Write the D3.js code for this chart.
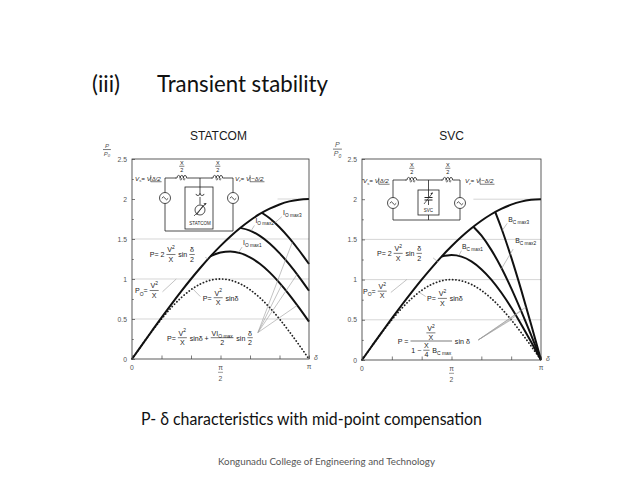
<!DOCTYPE html>
<html><head><meta charset="utf-8">
<script src="https://cdn.jsdelivr.net/npm/d3@7"></script>
<style>body{margin:0;background:#fff}svg{display:block}</style>
</head><body><svg id="c" width="638" height="478"></svg>
<script>
// ---------------- data ----------------
const deltaDeg = [0,10,20,30,40,50,60,70,80,90,100,110,120,130,140,150,160,170,180];
const envelopeP = [0,0.174,0.347,0.518,0.684,0.845,1.000,1.147,1.286,1.414,1.532,1.638,1.732,1.813,1.879,1.932,1.970,1.992,2.000];
const sinP = [0,0.174,0.342,0.5,0.643,0.766,0.866,0.940,0.985,1,0.985,0.940,0.866,0.766,0.643,0.5,0.342,0.174,0];

const statcomI1Deg = [80,90,100,110,120,130,140,150,160,170,180];
const statcomI1P = [1.286,1.331,1.343,1.323,1.271,1.190,1.083,0.952,0.803,0.640,0.468];
const statcomI2Deg = [110,120,130,140,150,160,170,180];
const statcomI2P = [1.639,1.605,1.539,1.445,1.324,1.182,1.024,0.853];
const statcomI3Deg = [132,140,150,160,170,180];
const statcomI3P = [1.828,1.759,1.647,1.511,1.356,1.187];

const svcB1Deg = [80,90,100,110,120,130,140,150,160,170,180];
const svcB1P = [1.286,1.305,1.286,1.227,1.130,1.000,0.839,0.653,0.446,0.227,0];
const svcB2Deg = [112,120,130,140,150,160,170,180];
const svcB2P = [1.658,1.549,1.370,1.150,0.894,0.611,0.311,0];
const svcB3Deg = [134,140,150,160,170,180];
const svcB3P = [1.840,1.645,1.279,0.875,0.445,0];

const yTickValues = [0,0.5,1,1.5,2,2.5];
const yTickLabels = ['0','0.5','1','1.5','2','2.5'];
const yMinorValues = [0.25,0.75,1.25,1.75,2.25];
const xTickDeg = [0,30,60,90,120,150,180];
const gridLevels = [0.5,1,1.5,2];

// ---------------- helpers ----------------
const svg = d3.select('#c');
const FF = '"Liberation Sans", Arial, sans-serif';
const INK = '#222';
const NB = '\u00a0';

function layout(g, x, y, items, fs){
  let cx = x;
  for (let it of items){
    if (typeof it === 'string') it = {t: it};
    if (it.frac){
      const nb = it.nb ?? -0.7, db = it.db ?? 0.6;
      const gn = g.append('g'), gd = g.append('g');
      const wn = layout(gn, 0, 0, it.frac[0], fs);
      const wd = layout(gd, 0, 0, it.frac[1], fs);
      const W = Math.max(wn, wd) + 1.5;
      gn.attr('transform', `translate(${cx+(W-wn)/2},${y+nb*fs})`);
      gd.attr('transform', `translate(${cx+(W-wd)/2},${y+db*fs})`);
      g.append('line').attr('x1',cx).attr('x2',cx+W).attr('y1',y-0.41*fs).attr('y2',y-0.41*fs)
        .attr('stroke',INK).attr('stroke-width',0.6);
      cx += W + 0.8;
    } else if (it.angle){
      const t = g.append('text').attr('x',cx+1.2).attr('y',y).attr('font-size',fs).text(it.angle);
      const w = t.node().getComputedTextLength();
      g.append('path').attr('d',`M${cx},${y-0.85*fs}V${y+0.2*fs}H${cx+w+2.2}`)
        .attr('fill','none').attr('stroke',INK).attr('stroke-width',0.6);
      cx += w + 2.5;
    } else {
      const t = g.append('text').attr('x',cx).attr('y',y).attr('font-size',fs);
      t.append('tspan').text(it.t);
      if (it.sup) t.append('tspan').attr('dy',-0.45*fs).attr('font-size',0.7*fs).text(it.sup);
      if (it.sub) t.append('tspan').attr('dy',0.3*fs).attr('font-size',0.7*fs).text(it.sub);
      cx += t.node().getComputedTextLength();
    }
  }
  return cx - x;
}
const V2 = [{t:'V',sup:'2'}];
const fV2X = {frac:[V2,['X']]};
const F_env = ['P= 2'+NB, fV2X, NB+'sin'+NB, {frac:[['δ'],['2']]}];
const F_P0 = [{t:'P',sub:'O'}, '='+NB, fV2X];
const F_sin = ['P='+NB, fV2X, NB+'sinδ'];
const F_statcom = ['P='+NB, fV2X, NB+'sinδ +'+NB, {frac:[[{t:'VI',sub:'O max'}],['2']]}, NB+'sin'+NB, {frac:[['δ'],['2']]}];
const F_svc = ['P ='+NB, {frac:[[fV2X],['1 −'+NB, {frac:[['X'],['4']]}, NB+'B', {t:'', sub:'C max'}]], nb:-1.15, db:1.3}, NB+'sin δ'];

function drawPanel(p){
  const x = d3.scaleLinear().domain([0,180]).range([p.L, p.R]);
  const y = d3.scaleLinear().domain([0,2.5]).range([p.B, p.T]);
  const g = svg.append('g').attr('font-family', FF).attr('fill', INK);
  const pt = d => [x(d[0]), y(d[1])];

  gridLevels.forEach(v=>{
    g.append('line').attr('x1', x(v===2 ? p.grid2From : 0)).attr('x2', x(180))
      .attr('y1', y(v)).attr('y2', y(v)).attr('stroke','#c4c4c4').attr('stroke-width',0.7);
  });

  const line = d3.line().x(d=>x(d[0])).y(d=>y(d[1])).curve(d3.curveMonotoneX);
  const zip = (a,b)=>a.map((d,i)=>[d,b[i]]);

  g.append('path').attr('d', line(zip(deltaDeg, sinP))).attr('fill','none')
    .attr('stroke','#222').attr('stroke-width',1.8).attr('stroke-linecap','round')
    .attr('stroke-dasharray','0.1,3.2');
  g.append('path').attr('d', line(zip(deltaDeg, envelopeP))).attr('fill','none')
    .attr('stroke','#111').attr('stroke-width',2);
  p.curves.forEach(c=>{
    g.append('path').attr('d', line(zip(c[0], c[1]))).attr('fill','none')
      .attr('stroke','#111').attr('stroke-width',2);
  });

  g.append('rect').attr('x',x(0)).attr('y',y(2.5)).attr('width',x(180)-x(0)).attr('height',y(0)-y(2.5))
    .attr('fill','none').attr('stroke','#333').attr('stroke-width',0.8);

  const ya = g.append('g').attr('transform',`translate(${x(0)},0)`)
    .call(d3.axisLeft(y).tickValues(yTickValues).tickSize(-3).tickPadding(5)
      .tickFormat((d,i)=>yTickLabels[i]));
  const ym = g.append('g').attr('transform',`translate(${x(0)},0)`)
    .call(d3.axisLeft(y).tickValues(yMinorValues).tickSize(-1.8).tickFormat(''));
  const xa = g.append('g').attr('transform',`translate(0,${y(0)})`)
    .call(d3.axisBottom(x).tickValues(xTickDeg).tickSize(-3.5).tickFormat(''));
  [ya,ym,xa].forEach(a=>{
    a.select('.domain').remove();
    a.selectAll('line').attr('stroke','#444').attr('stroke-width',0.7);
    a.selectAll('text').attr('font-family',FF).attr('font-size',6.8).attr('fill','#555');
  });
  const lab = g.append('g').attr('fill','#555').attr('font-size',6.8);
  lab.append('text').attr('x',x(0)).attr('y',y(0)+11).attr('text-anchor','middle').text('0');
  lab.append('text').attr('x',x(180)).attr('y',y(0)+10).attr('text-anchor','middle').text('π');
  lab.append('text').attr('x',x(90)).attr('y',y(0)+11).attr('text-anchor','middle').text('π');
  lab.append('line').attr('x1',x(90)-2.5).attr('x2',x(90)+2.5).attr('y1',y(0)+13.3).attr('y2',y(0)+13.3)
    .attr('stroke','#555').attr('stroke-width',0.6);
  lab.append('text').attr('x',x(90)).attr('y',y(0)+21.5).attr('text-anchor','middle').text('2');
  lab.append('text').attr('x',x(180)+5).attr('y',y(0)+1).attr('font-style','italic').text('δ');
  layout(lab.append('g').attr('font-style','italic'), x(0)-29, y(2.5)-7,
    [{frac:[['P'],[{t:'P',sub:'0'}]]}], p.ylabFs);

  g.append('text').attr('x',p.titleX).attr('y',140).attr('text-anchor','middle')
    .attr('font-size',12).attr('fill','#1a1a1a').text(p.name);

  p.leaders.forEach(l=>{
    g.append('line').attr('x1',pt(l[0])[0]).attr('y1',pt(l[0])[1]).attr('x2',pt(l[1])[0]).attr('y2',pt(l[1])[1])
      .attr('stroke','#9a9a9a').attr('stroke-width',0.6);
  });
  p.notes.forEach(n=>{
    const q = pt(n.at);
    layout(g.append('g').attr('fill','#222'), q[0], q[1], n.items, n.fs || 7.1);
  });

  p.circuit(g.append('g').attr('transform',`translate(${p.L},${p.T})`));
}

function coil(g, cx, y){
  g.append('line').attr('x1',cx-6).attr('x2',cx+6).attr('y1',y).attr('y2',y).attr('stroke','#fff').attr('stroke-width',2);
  g.append('path').attr('d',`M${cx-6.5},${y}h1.5a1.6,2.6 0 0 1 3.2,0a1.6,2.6 0 0 1 3.2,0a1.6,2.6 0 0 1 3.2,0h1.5`)
    .attr('fill','none').attr('stroke',INK).attr('stroke-width',0.8);
  g.append('path').attr('d',`M${cx-2},${y}q0,2.2 0.9,2.2q0.9,0 0.7,-2.2M${cx+1.2},${y}q0,2.2 0.9,2.2q0.9,0 0.7,-2.2`)
    .attr('fill','none').attr('stroke',INK).attr('stroke-width',0.6);
  layout(g, cx-2.8, y-9.5, [{frac:[['X'],['2']]}], 5.5);
}
function source(g, cx, cy){
  g.append('circle').attr('cx',cx).attr('cy',cy).attr('r',5.5).attr('fill','#fff').attr('stroke',INK).attr('stroke-width',0.8);
  g.append('path').attr('d',`M${cx-3.2},${cy+0.3}q1.6,-3 3.2,0t3.2,0`).attr('fill','none').attr('stroke',INK).attr('stroke-width',0.8);
}
function baseCircuit(g, c, vrAngle){
  g.append('path').attr('d',`M${c.l},${c.t}H${c.r}V${c.b}H${c.l}Z`).attr('fill','none').attr('stroke',INK).attr('stroke-width',0.8);
  coil(g, c.c1, c.t); coil(g, c.c2, c.t);
  source(g, c.l, c.sy); source(g, c.r, c.sy);
  layout(g.append('g').attr('font-style','italic'), c.vsx, c.vy, [{t:'V',sub:'s'}, '= V', {angle:'δ/2'}], 6.2);
  layout(g.append('g').attr('font-style','italic'), c.vrx, c.vy, [{t:'V',sub:'r'}, '= V', {angle:vrAngle}], 6.2);
}

// ---------------- panels ----------------
const statcom = {
  name:'STATCOM', L:132, R:309, T:159, B:359, titleX:218.5, grid2From:148, ylabFs:6,
  curves:[[statcomI1Deg,statcomI1P],[statcomI2Deg,statcomI2P],[statcomI3Deg,statcomI3P]],
  leaders:[
    [[74.5,1.27],[77.5,1.25]],
    [[31,0.84],[45,1.0]],
    [[69.5,0.78],[62,0.875]],
    [[128,0.33],[163,1.46]],[[128,0.33],[168,1.06]],[[128,0.33],[152,0.92]],[[128,0.33],[168,0.67]],
    [[152.5,1.78],[145,1.70]],
    [[124.5,1.67],[121,1.60]],
    [[112,1.40],[108.5,1.335]]
  ],
  notes:[
    {at:[18,1.27], items:F_env},
    {at:[3,0.82], items:F_P0},
    {at:[72,0.73], items:F_sin},
    {at:[35.6,0.23], items:F_statcom},
    {at:[153.6,1.80], items:[{t:'I',sub:'O max3'}], fs:6.8},
    {at:[125.5,1.70], items:[{t:'I',sub:'O max2'}], fs:6.8},
    {at:[113,1.42], items:[{t:'I',sub:'O max1'}], fs:6.8}
  ],
  circuit: g=>{
    const c = {l:33,t:19,r:101,b:72,c1:50,c2:86,sy:39,vsx:3,vrx:103,vy:21.5};
    baseCircuit(g, c, '−δ/2');
    const mx = 68;
    g.append('rect').attr('x',53).attr('y',28).attr('width',28).attr('height',42).attr('fill','#fff').attr('stroke',INK).attr('stroke-width',0.8);
    g.append('path').attr('d',`M${mx},${c.t}V34q0,2.5 -2,2.5q-2,0 -2,-1.6M${mx},34q0,2.5 2,2.5q2,0 2,-1.6`).attr('fill','none').attr('stroke',INK).attr('stroke-width',0.8);
    g.append('line').attr('x1',mx).attr('x2',mx).attr('y1',38).attr('y2',45.5).attr('stroke',INK).attr('stroke-width',0.8);
    g.append('circle').attr('cx',mx).attr('cy',51).attr('r',5).attr('fill','none').attr('stroke',INK).attr('stroke-width',0.8);
    g.append('line').attr('x1',mx-3.5).attr('y1',56).attr('x2',mx+3.5).attr('y2',46).attr('stroke',INK).attr('stroke-width',0.8);
    g.append('line').attr('x1',mx-6).attr('y1',57).attr('x2',mx+6).attr('y2',44.5).attr('stroke',INK).attr('stroke-width',0.7);
    g.append('path').attr('d',`M${mx+6.5},44l-3,0.6l1.6,1.6z`).attr('fill',INK);
    g.append('text').attr('x',mx).attr('y',66).attr('text-anchor','middle').attr('font-size',4.5).text('STATCOM');
  }
};
const svc = {
  name:'SVC', L:362, R:541, T:159, B:360, titleX:451.5, grid2From:112, ylabFs:7,
  curves:[[svcB1Deg,svcB1P],[svcB2Deg,svcB2P],[svcB3Deg,svcB3P]],
  leaders:[
    [[71.5,1.27],[76.5,1.22]],
    [[29,0.84],[45,1.0]],
    [[64,0.79],[57,0.845]],
    [[117,0.25],[165,0.66]],[[117,0.25],[160,0.61]],[[117,0.25],[155,0.55]],[[117,0.25],[150,0.5]],
    [[146,1.70],[141,1.61]],
    [[152,1.38],[140,1.13]],
    [[100,1.36],[97.5,1.30]]
  ],
  notes:[
    {at:[15,1.29], items:F_env},
    {at:[1,0.82], items:F_P0},
    {at:[65.4,0.73], items:F_sin},
    {at:[36,0.2], items:F_svc},
    {at:[147,1.72], items:[{t:'B',sub:'C max3'}], fs:6.8},
    {at:[154,1.45], items:[{t:'B',sub:'C max2'}], fs:6.8},
    {at:[100.6,1.38], items:[{t:'B',sub:'C max1'}], fs:6.8}
  ],
  circuit: g=>{
    const c = {l:31,t:21,r:98,b:61,c1:50,c2:86,sy:44,vsx:1,vrx:103,vy:24};
    baseCircuit(g, c, '−δ/2');
    const mx = 66.5;
    g.append('line').attr('x1',mx).attr('x2',mx).attr('y1',c.t).attr('y2',c.b).attr('stroke',INK).attr('stroke-width',0.8);
    g.append('rect').attr('x',56).attr('y',31).attr('width',21).attr('height',25).attr('fill','#fff').attr('stroke',INK).attr('stroke-width',0.8);
    g.append('line').attr('x1',mx).attr('x2',mx).attr('y1',31).attr('y2',38.5).attr('stroke',INK).attr('stroke-width',0.8);
    g.append('line').attr('x1',mx-4).attr('x2',mx+4).attr('y1',38.5).attr('y2',38.5).attr('stroke',INK).attr('stroke-width',1);
    g.append('line').attr('x1',mx-4).attr('x2',mx+4).attr('y1',41).attr('y2',41).attr('stroke',INK).attr('stroke-width',1);
    g.append('line').attr('x1',mx).attr('x2',mx).attr('y1',41).attr('y2',46).attr('stroke',INK).attr('stroke-width',0.8);
    g.append('line').attr('x1',mx-4.5).attr('y1',45).attr('x2',mx+4).attr('y2',34).attr('stroke',INK).attr('stroke-width',0.7);
    g.append('path').attr('d',`M${mx+4.5},33.3l-2.6,1l1.5,1.2z`).attr('fill',INK);
    g.append('text').attr('x',mx).attr('y',53).attr('text-anchor','middle').attr('font-size',4.5).text('SVC');
  }
};
drawPanel(statcom);
drawPanel(svc);

// ---------------- slide text ----------------
const slide = svg.append('g').attr('font-family','Lato, "Open Sans", sans-serif').attr('fill','#111');
slide.append('text').attr('x',92).attr('y',92).attr('font-size',24).attr('textLength',28).attr('lengthAdjust','spacingAndGlyphs').text('(iii)');
slide.append('text').attr('x',157).attr('y',92).attr('font-size',24).attr('textLength',171).attr('lengthAdjust','spacingAndGlyphs').text('Transient stability');
slide.append('text').attr('x',141).attr('y',425).attr('font-size',17.5).attr('textLength',341).attr('lengthAdjust','spacingAndGlyphs').text('P- δ characteristics with mid-point compensation');
slide.append('text').attr('x',218).attr('y',465).attr('font-size',9.5).attr('fill','#555').attr('textLength',217).attr('lengthAdjust','spacingAndGlyphs').text('Kongunadu College of Engineering and Technology');
</script>
</body></html>
